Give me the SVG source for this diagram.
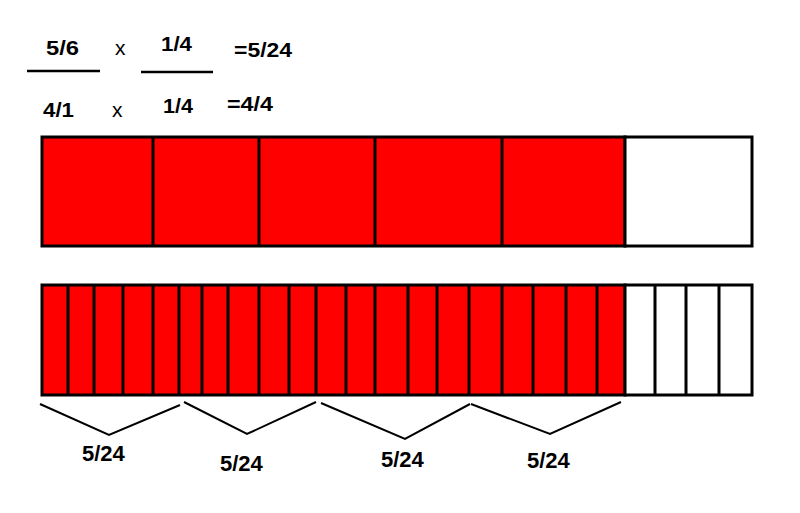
<svg xmlns="http://www.w3.org/2000/svg" width="800" height="513" viewBox="0 0 800 513">
<style>
.t{font-family:"Liberation Sans",Arial,sans-serif;font-weight:bold;fill:#000}
.x{font-family:"Liberation Sans",Arial,sans-serif;fill:#000}
.lbl{font-family:"Liberation Sans",Arial,sans-serif;font-weight:bold;font-size:22px;fill:#000}
.red{fill:#ff0000;stroke:#000;stroke-width:3}
.wht{fill:#fff;stroke:#000;stroke-width:3}
.div{stroke:#000;stroke-width:3}
.br{fill:none;stroke:#000;stroke-width:2}
</style>
<rect width="800" height="513" fill="#fff"/>
<g id="equation">
<text class="t" x="46" y="55" font-size="20" textLength="33" lengthAdjust="spacingAndGlyphs">5/6</text>
<text class="x" x="115" y="55" font-size="21">x</text>
<text class="t" x="161" y="51" font-size="20" textLength="31" lengthAdjust="spacingAndGlyphs">1/4</text>
<text class="t" x="234" y="57" font-size="20" textLength="58" lengthAdjust="spacingAndGlyphs">=5/24</text>
<line x1="27" y1="71" x2="100" y2="71" stroke="#000" stroke-width="2.5"/>
<line x1="141" y1="72" x2="213" y2="72" stroke="#000" stroke-width="2.5"/>
<text class="t" x="43" y="117" font-size="20" textLength="31" lengthAdjust="spacingAndGlyphs">4/1</text>
<text class="x" x="112" y="117" font-size="21">x</text>
<text class="t" x="163" y="113" font-size="20" textLength="30" lengthAdjust="spacingAndGlyphs">1/4</text>
<text class="t" x="227" y="111" font-size="20" textLength="46" lengthAdjust="spacingAndGlyphs">=4/4</text>
</g>
<g id="bar-sixths">
<rect class="red" x="42" y="137" width="583" height="109"/>
<rect class="wht" x="625" y="137" width="127" height="109"/>
<path class="div" d="M153,137V246M259,137V246M375,137V246M502,137V246"/>
</g>
<g id="bar-24ths">
<rect class="red" x="42" y="285" width="583" height="110"/>
<rect class="wht" x="625" y="285" width="127" height="110"/>
<path class="div" d="M68,285V395M94,285V395M123,285V395M153,285V395M179,285V395M202,285V395M228,285V395M259,285V395M289,285V395M316,285V395M346,285V395M375,285V395M408,285V395M437,285V395M469,285V395M502,285V395M533,285V395M566,285V395M597,285V395M655,285V395M686,285V395M719,285V395"/>
</g>
<g id="connectors">
<polyline class="br" points="40,404 109,435 180,405"/>
<polyline class="br" points="184,402 247,434 316,402"/>
<polyline class="br" points="321,403 405,439 470,404"/>
<polyline class="br" points="471,404 550,434 621,402"/>
</g>
<g id="labels">
<text class="lbl" x="82" y="461">5/24</text>
<text class="lbl" x="220" y="471">5/24</text>
<text class="lbl" x="381" y="467">5/24</text>
<text class="lbl" x="527" y="468">5/24</text>
</g>
</svg>
